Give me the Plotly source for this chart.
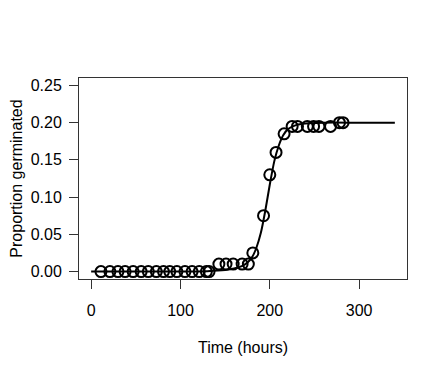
import plotly.graph_objects as go

# Observed germination data
time_hours = [11, 21, 30, 38, 47, 56, 64, 73, 81, 88, 96, 105, 113, 121, 129, 132,
              143, 151, 159, 169, 176,
              181, 193, 200, 207, 216,
              225, 231, 242, 249, 255, 268,
              278, 282]
prop_germinated = [0, 0, 0, 0, 0, 0, 0, 0, 0, 0, 0, 0, 0, 0, 0, 0,
                   0.01, 0.01, 0.01, 0.01, 0.01,
                   0.025, 0.075, 0.13, 0.16, 0.185,
                   0.195, 0.195, 0.195, 0.195, 0.195, 0.195,
                   0.2, 0.2]

# Fitted curve
curve_time = [0, 100, 130, 150, 160, 170, 175, 180, 185, 190, 195, 200, 205, 210,
              215, 220, 230, 240, 260, 300, 340]
curve_prop = [0, 0, 0.0005, 0.002, 0.004, 0.008, 0.012, 0.019, 0.032, 0.052, 0.082,
              0.117, 0.148, 0.169, 0.183, 0.191, 0.197, 0.199, 0.2, 0.2, 0.2]

x_ticks = [0, 100, 200, 300]
y_ticks = [0.00, 0.05, 0.10, 0.15, 0.20, 0.25]
y_tick_labels = ["0.00", "0.05", "0.10", "0.15", "0.20", "0.25"]

font_family = "Liberation Sans, Arial, Helvetica, sans-serif"

fig = go.Figure()
fig.add_trace(go.Scatter(
    x=time_hours, y=prop_germinated, mode="markers",
    marker=dict(symbol="circle-open", size=11, color="black", line=dict(width=2, color="black")),
    showlegend=False, hoverinfo="x+y"))
fig.add_trace(go.Scatter(
    x=curve_time, y=curve_prop, mode="lines",
    line=dict(color="black", width=2, shape="spline", smoothing=0.6),
    showlegend=False))

fig.update_layout(
    width=448, height=377,
    margin=dict(l=71, r=49, t=70, b=106),
    paper_bgcolor="white", plot_bgcolor="white",
    font=dict(family=font_family, size=16, color="black"),
    xaxis=dict(
        range=[-13.6, 353.6], tickmode="array", tickvals=x_ticks,
        ticktext=[str(v) for v in x_ticks],
        showgrid=False, zeroline=False, automargin=False,
        showline=True, linecolor="#333333", linewidth=1, mirror=True,
        ticks="outside", ticklen=9, tickwidth=1, tickcolor="#333333",
        ticklabelstandoff=8,
        title=dict(text="Time (hours)", standoff=23, font=dict(size=16)),
    ),
    yaxis=dict(
        range=[-0.01, 0.26], tickmode="array", tickvals=y_ticks,
        ticktext=y_tick_labels,
        showgrid=False, zeroline=False, automargin=False,
        showline=True, linecolor="#333333", linewidth=1, mirror=True,
        ticks="outside", ticklen=9, tickwidth=1, tickcolor="#333333",
        ticklabelstandoff=4,
        title=dict(text="Proportion germinated", standoff=11, font=dict(size=16)),
    ),
)

fig.write_html("out.html")
